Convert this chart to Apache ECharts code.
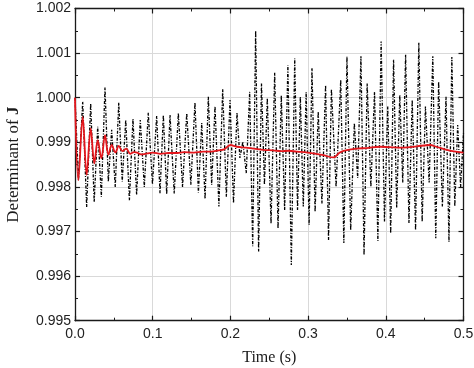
<!DOCTYPE html>
<html><head><meta charset="utf-8">
<script src="https://cdn.jsdelivr.net/npm/echarts@6/dist/echarts.min.js"></script>
<style>html,body{margin:0;padding:0;background:#fff}#c{width:474px;height:368px}</style>
</head><body><div id="c"></div>
<script>
const blackTime = [0,0.0045,0.0099,0.0150,0.0202,0.0247,0.0292,0.0339,0.0386,0.0429,0.0472,0.0518,0.0563,0.0608,0.0653,0.0700,0.0746,0.0793,0.0840,0.0892,0.0943,0.0997,0.1051,0.1094,0.1137,0.1180,0.1223,0.1277,0.1330,0.1384,0.1438,0.1491,0.1544,0.1588,0.1631,0.1674,0.1716,0.1759,0.1802,0.1852,0.1901,0.1948,0.1995,0.2040,0.2085,0.2122,0.2160,0.2204,0.2248,0.2287,0.2325,0.2363,0.2400,0.2438,0.2475,0.2523,0.2570,0.2613,0.2655,0.2698,0.2740,0.2784,0.2828,0.2864,0.2900,0.2938,0.2975,0.3013,0.3050,0.3090,0.3130,0.3178,0.3225,0.3263,0.3300,0.3360,0.3420,0.3460,0.3500,0.3548,0.3595,0.3638,0.3680,0.3720,0.3760,0.3808,0.3855,0.3898,0.3940,0.3983,0.4025,0.4063,0.4100,0.4140,0.4180,0.4218,0.4255,0.4298,0.4340,0.4383,0.4425,0.4468,0.4510,0.4558,0.4605,0.4643,0.4680,0.4728,0.4775,0.4813,0.4850,0.4888,0.4925,0.4963,0.5000];
const blackValue = [1.0000,0.99815,0.99991,0.99755,0.99987,0.99766,0.99935,0.99778,1.00023,0.99812,0.99928,0.99800,0.99989,0.99812,0.99950,0.99770,0.99952,0.99782,0.99950,0.99800,0.99966,0.99806,0.99959,0.99786,0.99961,0.99784,0.99961,0.99785,0.99965,0.99800,0.99965,0.99805,0.99989,0.99787,0.99943,0.99773,1.00002,0.99805,0.99981,0.99756,1.00019,0.99778,0.99995,0.99764,0.99966,0.99865,0.99901,0.99831,1.00013,0.99667,1.00150,0.99655,1.00032,0.99805,0.99999,0.99718,1.00056,0.99707,1.00005,0.99748,1.00073,0.99625,1.00088,0.99748,1.00002,0.99756,1.00013,0.99715,1.00066,0.99744,0.99969,0.99763,1.00028,0.99681,1.00019,0.99800,1.00040,0.99674,1.00092,0.99703,0.99943,0.99820,1.00093,0.99647,1.00032,0.99800,1.00013,0.99679,1.00126,0.99722,0.99980,0.99696,1.00085,0.99753,1.00006,0.99810,1.00096,0.99719,0.99995,0.99703,1.00123,0.99722,0.99980,0.99810,1.00093,0.99685,1.00036,0.99756,1.00002,0.99677,1.00091,0.99756,0.99939,0.99800,0.99920];
const redTime = [0,0.0043,0.0099,0.0150,0.0202,0.0249,0.0292,0.0340,0.0386,0.0430,0.0472,0.0520,0.0563,0.0610,0.0660,0.0710,0.0760,0.0800,0.0850,0.0930,0.1000,0.1100,0.1200,0.1320,0.1400,0.1530,0.1650,0.1750,0.1850,0.1920,0.2000,0.2080,0.2200,0.2300,0.2425,0.2550,0.2650,0.2750,0.2855,0.2950,0.3070,0.3200,0.3326,0.3400,0.3455,0.3627,0.3750,0.3927,0.4050,0.4227,0.4400,0.4570,0.4650,0.4785,0.4900,0.5000];
const redValue = [1.0000,0.99815,0.99957,0.99827,0.99931,0.99853,0.99905,0.99864,0.99916,0.99872,0.99894,0.99877,0.99892,0.99880,0.99886,0.99874,0.99878,0.99877,0.99873,0.99875,0.99877,0.99874,0.99876,0.99876,0.99878,0.99877,0.99879,0.99879,0.99882,0.99884,0.99894,0.99890,0.99888,0.99886,0.99883,0.99882,0.99880,0.99881,0.99879,0.99878,0.99875,0.99871,0.99866,0.99876,0.99881,0.99886,0.99887,0.99890,0.99889,0.99888,0.99891,0.99894,0.99890,0.99883,0.99879,0.99877];
const xTickLabels = ['0.0','0.1','0.2','0.3','0.4','0.5'];
const yTickLabels = ['0.995','0.996','0.997','0.998','0.999','1.000','1.001','1.002'];

const chart = echarts.init(document.getElementById('c'), null, {renderer:'canvas'});
const axisCol = '#1a1a1a';
const sans = 'Liberation Sans';
const serif = 'Liberation Serif';
const xMin = Number(xTickLabels[0]), xMax = Number(xTickLabels[xTickLabels.length-1]);
const yMin = Number(yTickLabels[0]), yMax = Number(yTickLabels[yTickLabels.length-1]);
const common = {
  axisLine:{show:true, onZero:false, lineStyle:{color:axisCol, width:1.3}},
  axisTick:{show:true, inside:true, length:5, lineStyle:{color:axisCol, width:1.2}},
  minorTick:{show:true, splitNumber:2, length:3, lineStyle:{color:axisCol, width:1}},
};
chart.setOption({
  animation:false,
  backgroundColor:'#fff',
  grid:{left:75, right:10.5, top:8.5, bottom:47.3, containLabel:false, outerBoundsMode:'none'},
  xAxis:[
    Object.assign({type:'value', min:xMin, max:xMax, interval:0.1, position:'bottom',
      name:'Time (s)', nameLocation:'middle', nameGap:29,
      nameTextStyle:{fontFamily:serif, fontSize:16, color:axisCol},
      axisLabel:{show:true, margin:6, fontFamily:sans, fontSize:14, color:'#222',
        formatter:v=>{const i=Math.round((v-xMin)/0.1); return xTickLabels[i]!==undefined?xTickLabels[i]:'';}},
      splitLine:{show:true, lineStyle:{color:'#d9d9d9', width:1}}}, common),
    Object.assign({type:'value', min:xMin, max:xMax, interval:0.1, position:'top',
      axisLabel:{show:false}, splitLine:{show:false}}, common)
  ],
  yAxis:[
    Object.assign({type:'value', min:yMin, max:yMax, interval:0.001, position:'left',
      name:'{a|Determinant of }{b|J}', nameLocation:'middle', nameGap:53, nameRotate:90,
      nameTextStyle:{fontFamily:serif, fontSize:17, color:axisCol,
        rich:{a:{fontFamily:serif, fontSize:17, color:axisCol}, b:{fontFamily:serif, fontSize:17, fontWeight:'bold', color:axisCol}}},
      axisLabel:{show:true, margin:4, fontFamily:sans, fontSize:14, color:'#222',
        formatter:v=>{const i=Math.round((v-yMin)/0.001); return yTickLabels[i]!==undefined?yTickLabels[i]:'';}},
      splitLine:{show:true, lineStyle:{color:'#d9d9d9', width:1}}}, common),
    Object.assign({type:'value', min:yMin, max:yMax, interval:0.001, position:'right',
      axisLabel:{show:false}, splitLine:{show:false}}, common)
  ],
  series:[
    {type:'line', xAxisIndex:0, yAxisIndex:0, showSymbol:false, silent:true,
      data:blackTime.map((t,i)=>[t, blackValue[i]]),
      lineStyle:{color:'#000', width:1.3, type:[3,1.5,1,1.5]}},
    {type:'line', xAxisIndex:0, yAxisIndex:0, showSymbol:false, silent:true, smooth:0.35,
      data:redTime.map((t,i)=>[t, redValue[i]]),
      lineStyle:{color:'#e3161c', width:1.8}}
  ]
});
</script></body></html>
